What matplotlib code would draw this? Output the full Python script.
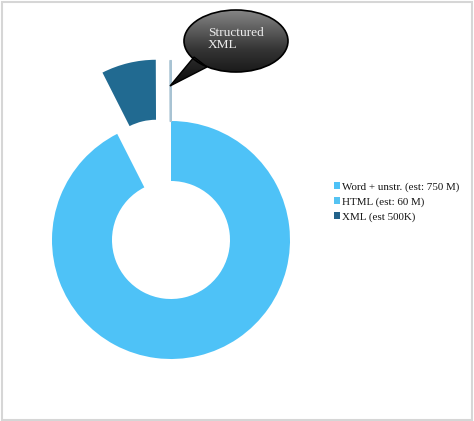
import numpy as np
import matplotlib
matplotlib.use("Agg")
import matplotlib.pyplot as plt
from matplotlib.patches import Patch, Ellipse, Polygon, Rectangle

# data: estimated document counts (millions)
labels = ["Word + unstr. (est: 750 M)", "HTML (est: 60 M)", "XML (est 500K)"]
values = [750, 60, 0.5]
legend_colors = ["#4EC2F7", "#55C3F2", "#22628A"]
wedge_colors = ["#4EC2F7", "#216A91", "#A8C3D3"]
explode = [0, 63, 60]   # pie explode is in data units here (pixels)

W, H = 474, 421
fig = plt.figure(figsize=(W / 100, H / 100), dpi=100, facecolor="white")
ax = fig.add_axes([0, 0, 1, 1])

wedges, _ = ax.pie(values, colors=wedge_colors, explode=explode, startangle=90,
                   counterclock=False, center=(171, 181), radius=119, frame=True,
                   wedgeprops=dict(width=60, linewidth=0))
wedges[2].set_edgecolor("#A8C3D3")
wedges[2].set_linewidth(1.5)

ax.set_xlim(0, W)
ax.set_ylim(0, H)
ax.set_aspect("equal")
ax.axis("off")

# speech bubble with gradient
ell = Ellipse((236, H - 41), 104, 62, facecolor="none", edgecolor="black", lw=1.2, zorder=5)
tail = Polygon([(194, H - 57), (207, H - 67), (170, H - 86)], closed=True,
               facecolor="none", edgecolor="black", lw=1.0, zorder=5)
ax.add_patch(tail)
ax.add_patch(ell)
grad = np.linspace(0, 1, 256).reshape(-1, 1)
cmap = matplotlib.colors.LinearSegmentedColormap.from_list("g", ["#050505", "#353535", "#8a8a8a"])
for clip in (tail, ell):
    im = ax.imshow(grad, cmap=cmap, extent=(160, 295, H - 90, H - 8),
                   origin="lower", aspect="auto", zorder=4)
    im.set_clip_path(clip)
ax.text(208, H - 39, "Structured\nXML", color="#EDEDED", fontsize=9.6,
        family="Liberation Serif", va="center", ha="left", linespacing=1.08, zorder=6)

handles = [Patch(facecolor=c, edgecolor="none") for c in legend_colors]
leg = fig.legend(handles, labels, loc="center left", bbox_to_anchor=(324 / W, 1 - 202 / H),
                 frameon=False, handlelength=0.55, handleheight=0.55, handletextpad=0.2,
                 labelspacing=0.5, prop=dict(family="Liberation Serif", size=7.9))
for t in leg.get_texts():
    t.set_color("#141414")

# outer frame
fig.patches.append(Rectangle((1.5 / W, 1.5 / H), 1 - 4 / W, 1 - 3.5 / H, transform=fig.transFigure,
                             facecolor="none", edgecolor="#D6D6D6", lw=1.5))

fig.savefig("out.png", dpi=100, facecolor="white")
